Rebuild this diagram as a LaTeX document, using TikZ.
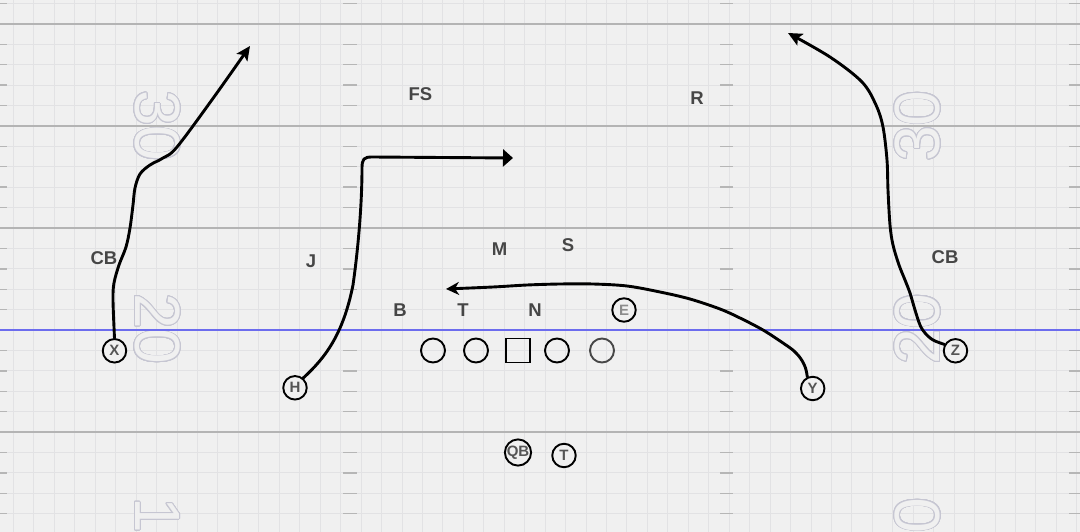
\documentclass[tikz,border=0pt]{standalone}
\usepackage{fontspec}
\setmainfont{Liberation Sans}
\usepackage[copies]{contour}
\usetikzlibrary{arrows.meta}
\definecolor{bgc}{RGB}{240,240,240}
\definecolor{gridc}{RGB}{226,226,228}
\definecolor{majc}{RGB}{180,180,180}
\definecolor{tickc}{RGB}{182,182,182}
\definecolor{losc}{RGB}{108,108,238}
\definecolor{numc}{RGB}{198,198,210}
\definecolor{labc}{RGB}{70,70,70}
\definecolor{plc}{RGB}{85,85,85}
\contourlength{0.8pt}
\contournumber{24}
\begin{document}
\begin{tikzpicture}[x=1pt,y=-1pt,
  route/.style={line width=2.9pt, line cap=round, line join=round},
  player/.style={circle, draw=black, line width=1.9pt, fill=bgc, minimum size=23.5pt, inner sep=0pt, text=plc, font=\fontsize{15}{15}\selectfont\bfseries},
  lineman/.style={circle, draw=black, line width=1.9pt, minimum size=24pt, inner sep=0pt},
  ballbox/.style={rectangle, draw=black, line width=1.9pt, minimum size=24pt, inner sep=0pt},
  deflab/.style={text=labc, font=\fontsize{18.5}{18.5}\selectfont\bfseries, inner sep=0pt},
  yardnum/.style={font=\fontsize{64}{64}\selectfont, inner sep=0pt},
  tipa/.style={-{Stealth[length=14pt,width=13pt,inset=3pt]}},
  tiph/.style={-{Triangle[length=10pt,width=17pt]}},
  tipy/.style={-{Stealth[length=13pt,width=13pt,inset=4pt]}}
]
\useasboundingbox (0,0) rectangle (1080,532);
\clip (0,0) rectangle (1080,532);
\fill[bgc] (0,0) rectangle (1080,532);
% grid
\foreach \k in {0,...,52} \draw[gridc, line width=0.9pt] ({13.4+20.45*\k},0) -- ({13.4+20.45*\k},532);
\foreach \k in {0,...,26} \draw[gridc, line width=0.9pt] (0,{3.6+20.4*\k}) -- (1080,{3.6+20.4*\k});
% yard numbers
\node[yardnum, rotate=-90] (n30l) at (157,126) {\contour{numc}{\textcolor{bgc}{30}}};
\node[yardnum, rotate=-90] (n20l) at (157,329) {\contour{numc}{\textcolor{bgc}{20}}};
\node[yardnum, rotate=-90] (n10l) at (157,533) {\contour{numc}{\textcolor{bgc}{10}}};
\node[yardnum, rotate=90] (n30r) at (918,126) {\contour{numc}{\textcolor{bgc}{30}}};
\node[yardnum, rotate=90] (n20r) at (918,329) {\contour{numc}{\textcolor{bgc}{20}}};
\node[yardnum, rotate=90] (n10r) at (918,533) {\contour{numc}{\textcolor{bgc}{10}}};
% hash ticks
\foreach \k in {0,...,25} {
  \pgfmathtruncatemacro\m{mod(\k,5)}
  \pgfmathsetmacro\yy{3.6+20.4*\k}
  \ifnum\m=1\else
    \draw[tickc, line width=1.4pt] (0,\yy) -- (7,\yy) (343,\yy) -- (357,\yy) (720,\yy) -- (733,\yy) (1069,\yy) -- (1080,\yy);
  \fi
}
% major lines
\foreach \yy in {24,126,228,432} \draw[majc, line width=2pt] (0,\yy) -- (1080,\yy);
\draw[losc, line width=2.8pt] (0,330) -- (1080,330);
% offense
\node[player] (X) at (114.5,350.8) {X};
\node[player] (H) at (295,387.8) {H};
\node[player] (Y) at (812.7,388.5) {Y};
\node[player] (Z) at (955.5,350.8) {Z};
\node[player, text=black!45] (E) at (624,310) {E};
\node[player] (QB) at (518,452.5) {QB};
\node[player] (TB) at (564,455.5) {T};
\node[lineman] (LT) at (433,350.5) {};
\node[lineman] (LG) at (476,350.5) {};
\node[ballbox] (C) at (518,350.5) {};
\node[lineman] (RG) at (557,350.5) {};
\node[lineman, draw=black!72] (RT) at (602,350.5) {};
% defense
\node[deflab] (CBl) at (104,258) {CB};
\node[deflab] (J) at (311,261) {J};
\node[deflab] (FS) at (420.5,94.5) {FS};
\node[deflab] (R) at (697,98) {R};
\node[deflab] (M) at (499.5,249.5) {M};
\node[deflab] (S) at (568,245) {S};
\node[deflab] (CBr) at (945,257) {CB};
\node[deflab] (B) at (400,310) {B};
\node[deflab] (Td) at (463,310) {T};
\node[deflab] (N) at (535,310) {N};
% route ends
\coordinate (Xend) at (250,46);
\coordinate (Hend) at (513,158);
\coordinate (Yend) at (446,289);
\coordinate (Zend) at (788,33);
% routes
\draw[route, tipa] plot[smooth, tension=0.55] coordinates {(X.north) (113,300) (114,283) (119,265) (126,247) (130,228) (133,205) (135,188) (140,174) (150,165) (163,158) (177,147) (214,97) (Xend)};
\draw[route, tiph] (H.50) .. controls (325,358) and (343,335) .. (353,285) .. controls (358,250) and (362,205) .. (362,168) .. controls (362,159) and (364,157) .. (372,157) -- (Hend);
\draw[route, tipy] plot[smooth, tension=0.55] coordinates {(Y.115) (805.5,368) (801,359) (794,351) (783,343) (763,330) (740,318) (720,309) (690,299) (660,292) (627,286) (593,284) (560,284) (527,285) (493,287) (Yend)};
\draw[route, tipa] plot[smooth, tension=0.55] coordinates {(Z.150) (933,340) (925,333) (920,325) (915,310) (910,293) (905,280) (899,265) (893,245) (890,225) (888,190) (887,160) (883,127) (876,105) (862,82) (830,57) (Zend)};
\end{tikzpicture}
\end{document}
